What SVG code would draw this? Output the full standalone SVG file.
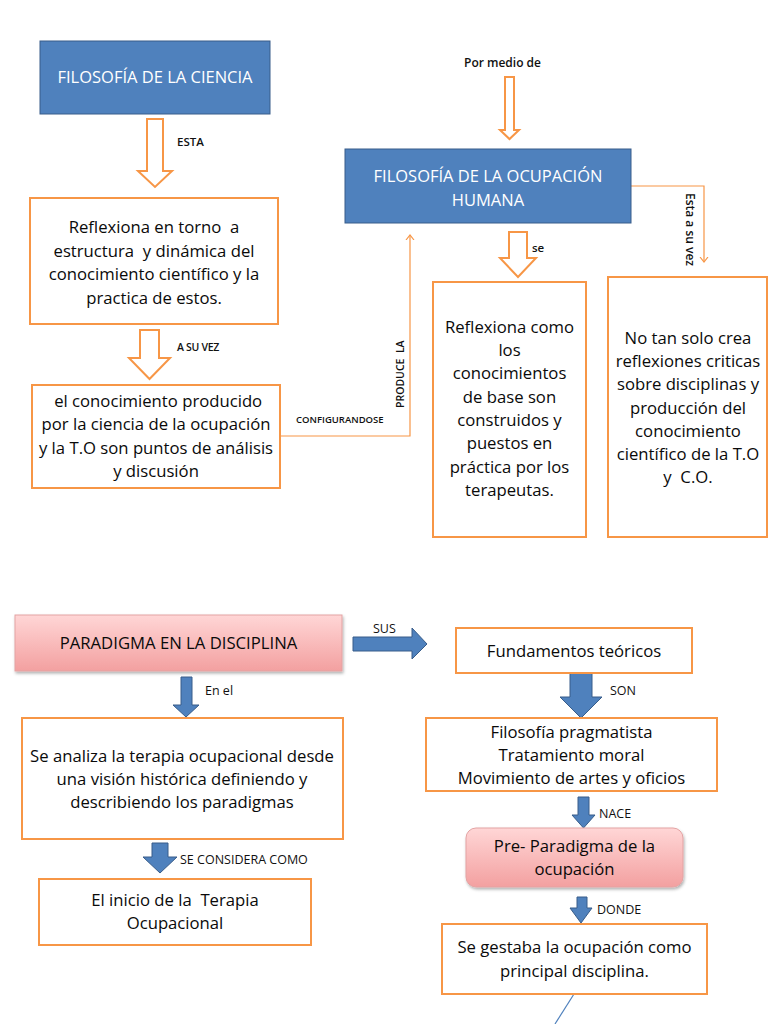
<svg xmlns="http://www.w3.org/2000/svg" width="768" height="1024" viewBox="0 0 768 1024">
<defs>
<style>
.t{font-family:"Open Sans",Lato,"Liberation Sans",sans-serif;fill:#111;text-anchor:middle;white-space:pre}
.body{font-size:16.7px;font-weight:500;fill:#0a0a0a}
.w{fill:#fff;font-size:16.5px}
.lbl{font-size:12.5px;text-anchor:start}
.bd{font-weight:600}
.ob{fill:#fff;stroke:#F79646;stroke-width:2}
.bb{fill:#4F81BD;stroke:#385D8A;stroke-width:1}
.ha{fill:#fff;stroke:#F79646;stroke-width:2;stroke-linejoin:miter}
.ba{fill:#4F81BD;stroke:#385D8A;stroke-width:1}
.oc{fill:none;stroke:#F79646;stroke-width:1.2}
.pk{fill:url(#pg);stroke:#E3A3A3;stroke-width:1}
</style>
<linearGradient id="pg" x1="0" y1="0" x2="0" y2="1">
<stop offset="0" stop-color="#FFD6D6"/>
<stop offset="1" stop-color="#F3A0A0"/>
</linearGradient>
<filter id="sh" x="-10%" y="-20%" width="120%" height="150%">
<feDropShadow dx="1" dy="2" stdDeviation="1.5" flood-color="#000" flood-opacity="0.3"/>
</filter>
<marker id="oa" markerWidth="10" markerHeight="10" refX="5" refY="5" orient="auto" markerUnits="userSpaceOnUse">
<path d="M0,1 L5,5 L0,9" fill="none" stroke="#F79646" stroke-width="1.2"/>
</marker>
</defs>
<rect width="768" height="1024" fill="#fff"/>

<g id="connectors">
<polygon class="ha" points="147,119 163,119 163,171 172,171 155,187 138,171 147,171"/>
<polygon class="ha" points="140,330 159,330 159,358 170,358 149.5,379 129,358 140,358"/>
<polygon class="ha" points="505,77 514,77 514,130 519,130 509.5,139 500,130 505,130"/>
<polygon class="ha" points="509,232 527,232 527,258 536,258 518,277 500,258 509,258"/>
<polyline class="oc" points="280,436 410,436 410,235" marker-end="url(#oa)"/>
<polyline class="oc" points="631,186 704,186 704,262" marker-end="url(#oa)"/>
<polygon class="ba" points="353,637 412,637 412,628 427,644 412,659 412,651 353,651"/>
<polygon class="ba" points="181,677 192,677 192,705 199,705 186,717 173,705 181,705"/>
<polygon class="ba" points="152,843 168,843 168,857 177,857 160,873 143,857 152,857"/>
<polygon class="ba" points="570,673 592,673 592,697 602,697 581,718 560,697 570,697"/>
<polygon class="ba" points="578,797 589,797 589,815 595,815 583.5,828 572,815 578,815"/>
<polygon class="ba" points="577,897 587,897 587,908 592,908 581,923 570,908 577,908"/>
<line x1="574" y1="994" x2="555" y2="1024" stroke="#4F81BD" stroke-width="1.2"/>
<text class="t lbl bd" x="177" y="146" style="font-size:11.5px">ESTA</text>
<text class="t lbl bd" x="177" y="351" style="font-size:10.5px;letter-spacing:-0.3px">A SU VEZ</text>
<text class="t lbl bd" x="296" y="423" style="font-size:9.5px">CONFIGURANDOSE</text>
<text class="t lbl bd" x="0" y="0" style="font-size:10.5px" transform="translate(404,408) rotate(-90)">PRODUCE  LA</text>
<text class="t lbl bd" x="464" y="67" style="font-size:12px">Por medio de</text>
<text class="t lbl bd" x="532" y="252" style="font-size:11.5px">se</text>
<text class="t lbl bd" x="0" y="0" style="font-size:12px" transform="translate(686,193) rotate(90)">Esta a su vez</text>
<text class="t lbl" x="373" y="633">SUS</text>
<text class="t lbl" x="205" y="695">En el</text>
<text class="t lbl" x="180" y="864">SE CONSIDERA COMO</text>
<text class="t lbl" x="610" y="695">SON</text>
<text class="t lbl" x="599" y="818">NACE</text>
<text class="t lbl" x="597" y="914">DONDE</text>
</g>

<g id="n1">
<rect class="bb" x="40" y="41" width="230" height="73"/>
<text class="t w" x="155" y="83">FILOSOFÍA DE LA CIENCIA</text>
</g>
<g id="n2">
<rect class="ob" x="30" y="198" width="248" height="126"/>
<text class="t body" x="154" y="233">Reflexiona en torno  a</text>
<text class="t body" x="154" y="257">estructura  y dinámica del</text>
<text class="t body" x="154" y="280">conocimiento científico y la</text>
<text class="t body" x="154" y="304">practica de estos.</text>
</g>
<g id="n3">
<rect class="ob" x="32" y="385" width="248" height="103"/>
<text class="t body" x="156" y="407"> el conocimiento producido</text>
<text class="t body" x="156" y="430">por la ciencia de la ocupación</text>
<text class="t body" x="156" y="454">y la T.O son puntos de análisis</text>
<text class="t body" x="156" y="477">y discusión</text>
</g>
<g id="n4">
<rect class="bb" x="345" y="149" width="286" height="74"/>
<text class="t w" x="488" y="182">FILOSOFÍA DE LA OCUPACIÓN</text>
<text class="t w" x="488" y="206">HUMANA</text>
</g>
<g id="n5">
<rect class="ob" x="433" y="282" width="153" height="255"/>
<text class="t body" x="509.5" y="333">Reflexiona como</text>
<text class="t body" x="509.5" y="356">los</text>
<text class="t body" x="509.5" y="379">conocimientos</text>
<text class="t body" x="509.5" y="403">de base son</text>
<text class="t body" x="509.5" y="426">construidos y</text>
<text class="t body" x="509.5" y="449">puestos en</text>
<text class="t body" x="509.5" y="473">práctica por los</text>
<text class="t body" x="509.5" y="496">terapeutas.</text>
</g>
<g id="n6">
<rect class="ob" x="608" y="277" width="159" height="260"/>
<text class="t body" x="688" y="344">No tan solo crea</text>
<text class="t body" x="688" y="367">reflexiones criticas</text>
<text class="t body" x="688" y="390">sobre disciplinas y</text>
<text class="t body" x="688" y="414">producción del</text>
<text class="t body" x="688" y="437">conocimiento</text>
<text class="t body" x="688" y="460">científico de la T.O</text>
<text class="t body" x="688" y="483">y  C.O.</text>
</g>

<g id="n7">
<rect class="pk" x="15" y="615" width="327" height="56" filter="url(#sh)"/>
<text class="t body" x="178.5" y="649">PARADIGMA EN LA DISCIPLINA</text>
</g>
<g id="n8">
<rect class="ob" x="22" y="718" width="321" height="121"/>
<text class="t body" x="182" y="762">Se analiza la terapia ocupacional desde</text>
<text class="t body" x="182" y="785">una visión histórica definiendo y</text>
<text class="t body" x="182" y="808">describiendo los paradigmas</text>
</g>
<g id="n9">
<rect class="ob" x="39" y="879" width="272" height="66"/>
<text class="t body" x="175" y="906">El inicio de la  Terapia</text>
<text class="t body" x="175" y="929">Ocupacional</text>
</g>
<g id="n10">
<rect class="ob" x="456" y="628" width="236" height="45"/>
<text class="t body" x="574" y="657">Fundamentos teóricos</text>
</g>
<g id="n11">
<rect class="ob" x="426" y="718" width="291" height="73"/>
<text class="t body" x="571.5" y="738">Filosofía pragmatista</text>
<text class="t body" x="571.5" y="761">Tratamiento moral</text>
<text class="t body" x="571.5" y="784">Movimiento de artes y oficios</text>
</g>
<g id="n12">
<rect class="pk" x="466" y="828" width="217" height="59" rx="10" filter="url(#sh)"/>
<text class="t body" x="574.5" y="852">Pre- Paradigma de la</text>
<text class="t body" x="574.5" y="875">ocupación</text>
</g>
<g id="n13">
<rect class="ob" x="442" y="924" width="265" height="70"/>
<text class="t body" x="574.5" y="953">Se gestaba la ocupación como</text>
<text class="t body" x="574.5" y="977">principal disciplina.</text>
</g>
</svg>
